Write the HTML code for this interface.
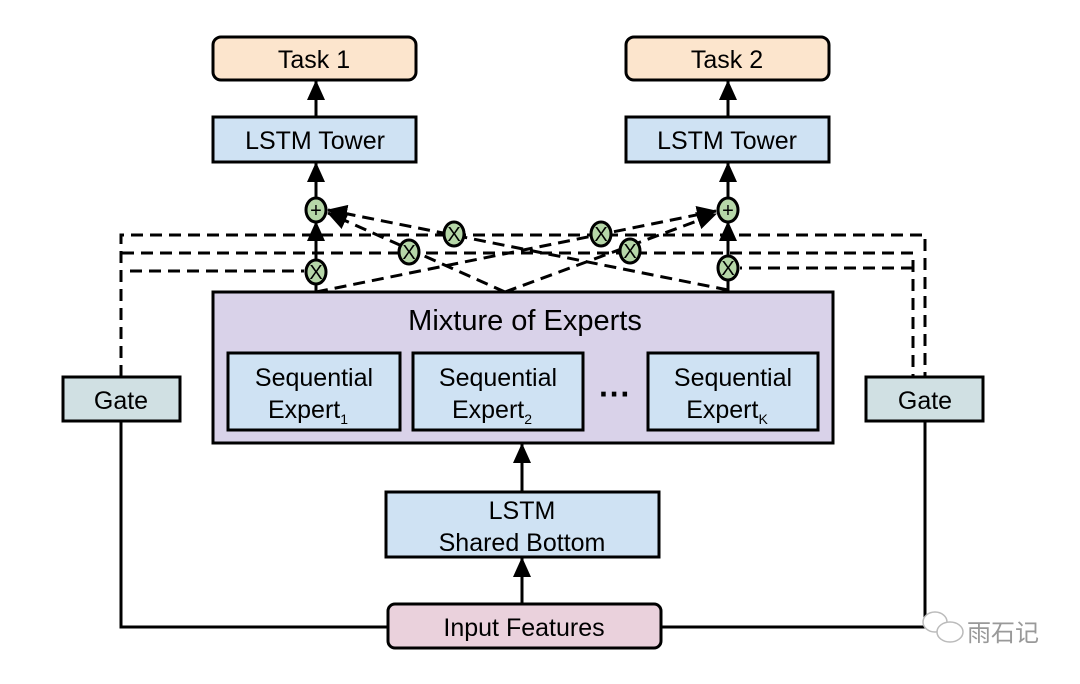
<!DOCTYPE html>
<html><head><meta charset="utf-8"><style>
body{margin:0;background:#fff;}
svg text{font-family:"Liberation Sans",Arial,sans-serif;fill:#000;}
</style></head><body>
<svg width="1080" height="679" viewBox="0 0 1080 679" xmlns="http://www.w3.org/2000/svg">
<defs>
<marker id="b" markerWidth="20" markerHeight="18" refX="19" refY="9" orient="auto" markerUnits="userSpaceOnUse" viewBox="0 0 20 18"><path d="M0,0 L20,9 L0,18z" fill="#000"/></marker>
</defs>
<g stroke="#000" stroke-width="3" fill="none">
<polyline points="121,421 121,627 388,627"/>
<polyline points="925,421 925,627 661,627"/>
<line x1="522" y1="604" x2="522" y2="558" marker-end="url(#b)"/>
<line x1="522" y1="492" x2="522" y2="444" marker-end="url(#b)"/>
<line x1="316" y1="117" x2="316" y2="81" marker-end="url(#b)"/>
<line x1="728" y1="117" x2="728" y2="81" marker-end="url(#b)"/>
<line x1="316" y1="199" x2="316" y2="163" marker-end="url(#b)"/>
<line x1="728" y1="199" x2="728" y2="163" marker-end="url(#b)"/>
<line x1="316" y1="292" x2="316" y2="284"/>
<line x1="728" y1="292" x2="728" y2="280"/>
<line x1="316" y1="260" x2="316" y2="222" marker-end="url(#b)"/>
<line x1="728" y1="256" x2="728" y2="222" marker-end="url(#b)"/>
</g>
<g stroke="#000" stroke-width="3" fill="none" stroke-dasharray="12,7">
<polyline points="121,377 121,235 925,235 925,377"/>
<polyline points="122,253 913,253 913,377"/>
<polyline points="913,268 740,268"/>
<polyline points="130,271 304,271"/>
<line x1="728" y1="290" x2="328" y2="210" marker-end="url(#b)"/>
<line x1="505" y1="292" x2="328" y2="213" marker-end="url(#b)"/>
<line x1="316" y1="292" x2="716" y2="211" marker-end="url(#b)"/>
<line x1="505" y1="292" x2="716" y2="214" marker-end="url(#b)"/>
</g>
<g stroke="#000" stroke-width="3" fill="#b6d7a8">
<ellipse cx="316" cy="210" rx="10" ry="12"/>
<ellipse cx="728" cy="210" rx="10" ry="12"/>
<ellipse cx="316" cy="272" rx="10" ry="12"/>
<ellipse cx="728" cy="268" rx="10" ry="12"/>
<ellipse cx="409" cy="252" rx="10" ry="12"/>
<ellipse cx="454" cy="234" rx="10" ry="12"/>
<ellipse cx="601" cy="234" rx="10" ry="12"/>
<ellipse cx="630" cy="251" rx="10" ry="12"/>
</g>
<g font-size="20" text-anchor="middle">
<text x="316" y="217">+</text><text x="728" y="217">+</text>
<text x="316" y="279">X</text><text x="728" y="275">X</text>
<text x="409" y="259">X</text><text x="454" y="241">X</text>
<text x="601" y="241">X</text><text x="630" y="258">X</text>
</g>
<g stroke="#000" stroke-width="3">
<rect x="213" y="37" width="203" height="43" rx="8" fill="#fce5cd"/>
<rect x="626" y="37" width="203" height="43" rx="8" fill="#fce5cd"/>
<rect x="213" y="117" width="203" height="45" fill="#cfe2f3"/>
<rect x="626" y="117" width="203" height="45" fill="#cfe2f3"/>
<rect x="213" y="292" width="620" height="151" fill="#d9d2e9"/>
<rect x="228" y="353" width="172" height="77" fill="#cfe2f3"/>
<rect x="413" y="353" width="170" height="77" fill="#cfe2f3"/>
<rect x="648" y="353" width="170" height="77" fill="#cfe2f3"/>
<rect x="63" y="377" width="117" height="44" fill="#d0e0e3"/>
<rect x="866" y="377" width="117" height="44" fill="#d0e0e3"/>
<rect x="386" y="492" width="273" height="65" fill="#cfe2f3"/>
<rect x="388" y="604" width="273" height="44" rx="7" fill="#ead1dc"/>
</g>
<g font-size="25" text-anchor="middle">
<text x="314" y="68">Task 1</text>
<text x="727" y="68">Task 2</text>
<text x="315" y="149">LSTM Tower</text>
<text x="727" y="149">LSTM Tower</text>
<text x="525" y="330" font-size="29">Mixture of Experts</text>
<text x="314" y="386">Sequential</text>
<text x="308" y="418">Expert<tspan font-size="14" dy="6">1</tspan></text>
<text x="498" y="386">Sequential</text>
<text x="492" y="418">Expert<tspan font-size="14" dy="6">2</tspan></text>
<text x="733" y="386">Sequential</text>
<text x="727" y="418">Expert<tspan font-size="14" dy="6">K</tspan></text>
<text x="615" y="405" font-size="32" font-weight="bold">···</text>
<text x="121" y="409">Gate</text>
<text x="925" y="409">Gate</text>
<text x="522" y="519">LSTM</text>
<text x="522" y="551">Shared Bottom</text>
<text x="524" y="636">Input Features</text>
</g>
<g stroke="#bbb" stroke-width="1.5" fill="#fff">
<ellipse cx="935" cy="622" rx="12" ry="10"/>
<ellipse cx="950" cy="632" rx="13" ry="10"/>
</g>
<text x="967" y="641" font-size="24" style="fill:#999;font-family:'Noto Sans CJK SC',sans-serif">雨石记</text>
</svg>
</body></html>
